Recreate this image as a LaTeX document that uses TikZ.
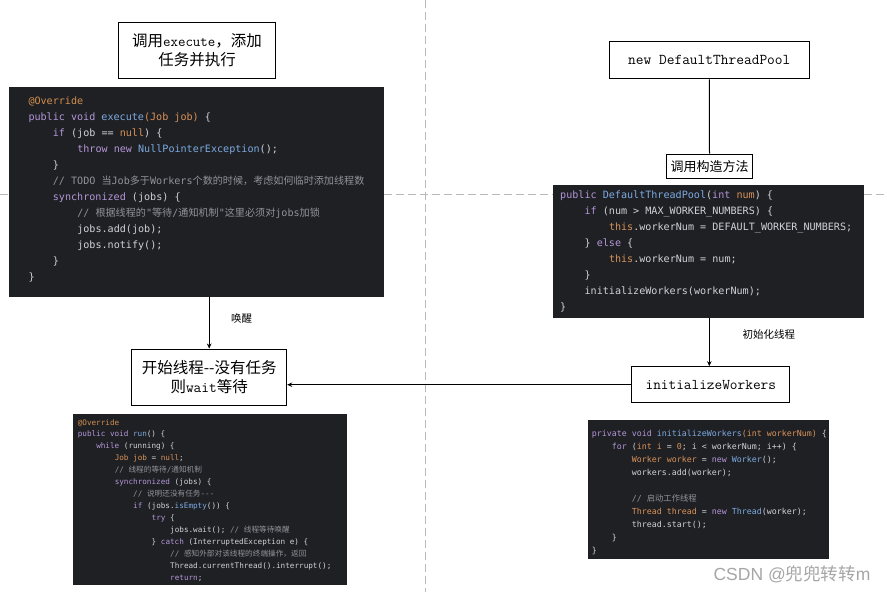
\documentclass[tikz,border=0pt]{standalone}
\usepackage{fontspec}
\usetikzlibrary{arrows.meta}
\setmainfont{Liberation Sans}
\newfontfamily\codefont{DejaVu Sans Mono}
\newfontfamily\cjkfont{Noto Sans CJK SC}
\newfontfamily\wmfont{Liberation Sans}
\definecolor{codebg}{HTML}{1F2023}
\definecolor{cplain}{HTML}{CFD2D7}
\definecolor{ckw}{HTML}{B496DA}
\definecolor{cfn}{HTML}{7DAAE3}
\definecolor{cty}{HTML}{D9925A}
\definecolor{can}{HTML}{D38E4E}
\definecolor{ccm}{HTML}{90939A}
\definecolor{dashgray}{HTML}{B9B9B9}
\definecolor{wmgray}{HTML}{A6A6A6}
\newcommand\xkw[1]{\textcolor{ckw}{#1}}
\newcommand\xfn[1]{\textcolor{cfn}{#1}}
\newcommand\xty[1]{\textcolor{cty}{#1}}
\newcommand\xan[1]{\textcolor{can}{#1}}
\newcommand\xcm[1]{\textcolor{ccm}{#1}}
\newcommand\xcj[1]{{\cjkfont #1}}
\tikzset{
  codebox/.style={fill=codebg, draw=none, inner sep=0pt},
  codeA/.style={font=\codefont\fontsize{10.1}{12}\selectfont, text=cplain, anchor=base west, inner sep=0pt},
  codeC/.style={font=\codefont\fontsize{7.65}{9}\selectfont, text=cplain, anchor=base west, inner sep=0pt},
  codeD/.style={font=\codefont\fontsize{8.3}{10}\selectfont, text=cplain, anchor=base west, inner sep=0pt},
  box/.style={draw=black, line width=1pt, fill=white, inner sep=0pt, align=center},
  conn/.style={line width=1pt, -{Stealth[length=5pt,width=4.5pt]}},
  plainline/.style={line width=1pt},
  lbl/.style={font=\cjkfont\fontsize{10.5}{12}\selectfont, inner sep=0pt},
  divider/.style={draw=dashgray, line width=1.2pt, dash pattern=on 8pt off 4pt}
}
\begin{document}
\begin{tikzpicture}[x=1pt,y=-1pt]
\fill[white] (0,0) rectangle (887,592);
\useasboundingbox (0,0) rectangle (887,592);
% dividers
\coordinate (vt) at (425.3,0);
\coordinate (vb) at (425.3,592);
\coordinate (hl) at (0,194.5);
\coordinate (hr) at (887,194.5);
\draw[divider] (vt) -- (vb);
\draw[divider] (hl) -- (hr);

% code backgrounds
\node[codebox, minimum width=375pt, minimum height=210pt] (cA) at (196.5,191.7) {};
\node[codebox, minimum width=311pt, minimum height=133.5pt] (cB) at (708.5,251.3) {};
\node[codebox, minimum width=274pt, minimum height=171pt] (cC) at (209.7,499.5) {};
\node[codebox, minimum width=241pt, minimum height=139pt] (cD) at (708.5,489.5) {};

% code A
\foreach \ind/\txt [count=\i] in {
  0/{\xan{@Override}},
  0/{\xkw{public void} \xfn{execute}\xty{(Job job)} \{},
  4/{\xkw{if} (job == \xty{null}) \{},
  8/{\xkw{throw new} \xfn{NullPointerException}();},
  4/{\}},
  4/{\xcm{// TODO \xcj{当}Job\xcj{多于}Workers\xcj{个数的时候，考虑如何临时添加线程数}}},
  4/{\xkw{synchronized} (jobs) \{},
  8/{\xcm{// \xcj{根据线程的}"\xcj{等待}/\xcj{通知机制}"\xcj{这里必须对}jobs\xcj{加锁}}},
  8/{jobs.add(job);},
  8/{jobs.notify();},
  4/{\}},
  0/{\}}}
  \node[codeA] (A\i) at ({28.3+6.1*\ind},{104.6+16*(\i-1)}) {\txt};

% code B
\foreach \ind/\txt [count=\i] in {
  0/{\xkw{public} \xfn{DefaultThreadPool}(\xkw{int} \xty{num}) \{},
  4/{\xkw{if} (num > MAX\_WORKER\_NUMBERS) \{},
  8/{\xty{this}.workerNum = DEFAULT\_WORKER\_NUMBERS;},
  4/{\} \xkw{else} \{},
  8/{\xty{this}.workerNum = num;},
  4/{\}},
  4/{initializeWorkers(workerNum);},
  0/{\}}}
  \node[codeA] (B\i) at ({560+6.1*\ind},{198.6+16*(\i-1)}) {\txt};

% code C
\foreach \ind/\txt [count=\i] in {
  0/{\xan{@Override}},
  0/{\xkw{public void} \xfn{run}() \{},
  4/{\xkw{while} (running) \{},
  8/{\xty{Job job} = \xty{null};},
  8/{\xcm{// \xcj{线程的等待}/\xcj{通知机制}}},
  8/{\xkw{synchronized} (jobs) \{},
  12/{\xcm{// \xcj{说明还没有任务}-{}-{}-}},
  12/{\xkw{if} (jobs.\xfn{isEmpty}()) \{},
  16/{\xkw{try} \{},
  20/{jobs.wait(); \xcm{// \xcj{线程等待唤醒}}},
  16/{\} \xkw{catch} (InterruptedException e) \{},
  20/{\xcm{// \xcj{感知外部对该线程的终端操作，返回}}},
  20/{Thread.currentThread().interrupt();},
  20/{\xkw{return};}}
  \node[codeC] (C\i) at ({77.6+4.62*\ind},{425+11.98*(\i-1)}) {\txt};

% code D
\foreach \ind/\txt [count=\i] in {
  0/{\xkw{private void} \xfn{initializeWorkers}\xty{(int workerNum)} \{},
  4/{\xkw{for} (\xty{int i} = \xty{0}; i < workerNum; i++) \{},
  8/{\xty{Worker worker} = \xkw{new} \xfn{Worker}();},
  8/{workers.add(worker);},
  8/{},
  8/{\xcm{// \xcj{启动工作线程}}},
  8/{\xty{Thread thread} = \xkw{new} \xfn{Thread}(worker);},
  8/{thread.start();},
  4/{\}},
  0/{\}}}
  \node[codeD] (D\i) at ({591.7+5*\ind},{436.2+13*(\i-1)}) {\txt};

% boxes
\node[box, minimum width=157.4pt, minimum height=56pt,
  font=\cjkfont\fontsize{15.5}{18.5}\selectfont] (exec) at (197,50.3)
  {调用{\ttfamily\fontsize{14.5}{18.5}\selectfont execute}，添加\\任务并执行};
\node[box, minimum width=155pt, minimum height=56.3pt,
  font=\cjkfont\fontsize{15.5}{19}\selectfont] (kaishi) at (209.2,377.2)
  {开始线程-{}-没有任务\\则{\ttfamily\fontsize{15}{19}\selectfont wait}等待};
\node[box, minimum width=200pt, minimum height=37.3pt,
  font=\ttfamily\fontsize{15}{17}\selectfont] (ndtp) at (709.3,60.3) {new DefaultThreadPool};
\node[box, minimum width=85.6pt, minimum height=24.3pt,
  font=\cjkfont\fontsize{13}{15}\selectfont] (gouzao) at (709.5,166.2) {调用构造方法};
\node[box, minimum width=158.3pt, minimum height=36pt,
  font=\ttfamily\fontsize{14.9}{17}\selectfont] (init) at (710.8,384.7) {initializeWorkers};

% connectors
\draw[conn] (cA.south -| kaishi.north) -- (kaishi.north);
\node[lbl] (l1) at (241.7,318.3) {唤醒};
\draw[plainline] (ndtp.south) -- (gouzao.north);
\draw[conn] (cB.south -| ndtp.south) -- (init.north -| ndtp.south);
\node[lbl] (l2) at (768.8,334) {初始化线程};
\draw[conn] (init.west) -- (init.west -| kaishi.east);

% watermark
\node[text=wmgray, inner sep=0pt, font=\wmfont\fontsize{17.5}{19}\selectfont] (wm) at (792,574)
  {CSDN @\xcj{兜兜转转}m};
\end{tikzpicture}
\end{document}
